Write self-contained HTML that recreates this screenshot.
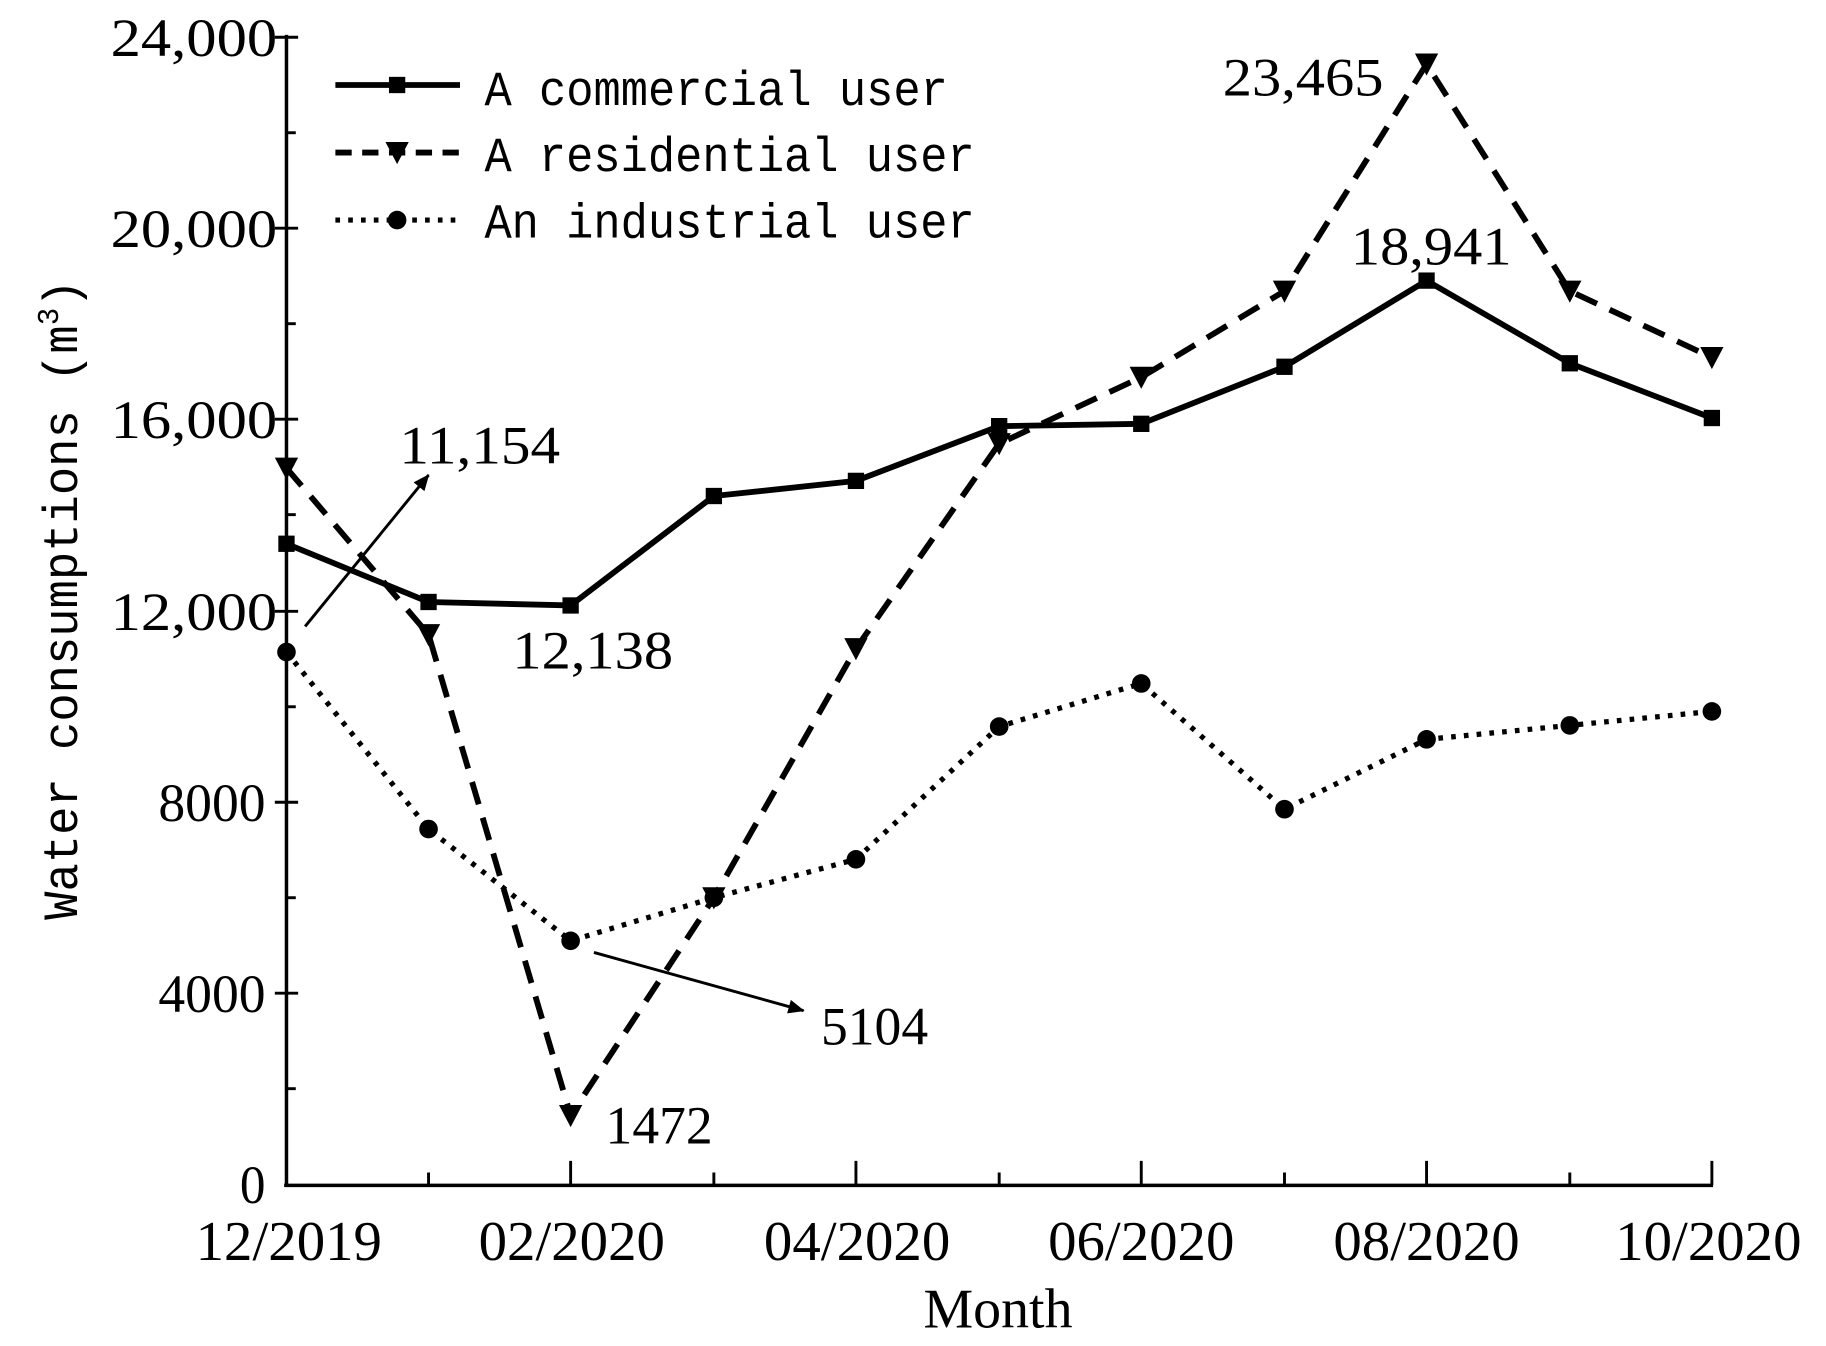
<!DOCTYPE html>
<html><head><style>html,body{margin:0;padding:0;background:#fff}svg{display:block}</style></head>
<body>
<svg width="1826" height="1346" viewBox="0 0 1568 1156" preserveAspectRatio="none" xmlns="http://www.w3.org/2000/svg" font-family="Liberation Serif, serif" fill="#000">
<defs>
<marker id="ar" markerWidth="14" markerHeight="12" refX="13" refY="6" orient="auto" markerUnits="userSpaceOnUse" viewBox="0 0 14 12"><path d="M0,0 L14,6 L0,12z"/></marker>
</defs>
<g stroke="#000" stroke-width="3" fill="none">
<line x1="246" y1="30" x2="246" y2="1019"/>
<line x1="244" y1="1018" x2="1471" y2="1018"/>
</g>
<g stroke="#000" stroke-width="2.5">
<line x1="236" y1="32" x2="256" y2="32"/><line x1="246" y1="114" x2="254" y2="114"/>
<line x1="236" y1="196" x2="256" y2="196"/><line x1="246" y1="278" x2="254" y2="278"/>
<line x1="236" y1="360" x2="256" y2="360"/><line x1="246" y1="442" x2="254" y2="442"/>
<line x1="236" y1="525" x2="256" y2="525"/><line x1="246" y1="607" x2="254" y2="607"/>
<line x1="236" y1="689" x2="256" y2="689"/><line x1="246" y1="771" x2="254" y2="771"/>
<line x1="236" y1="853" x2="256" y2="853"/><line x1="246" y1="935" x2="254" y2="935"/>
<line x1="368" y1="1018" x2="368" y2="1007"/><line x1="490" y1="1018" x2="490" y2="997"/>
<line x1="613" y1="1018" x2="613" y2="1007"/><line x1="735" y1="1018" x2="735" y2="997"/>
<line x1="858" y1="1018" x2="858" y2="1007"/><line x1="980" y1="1018" x2="980" y2="997"/>
<line x1="1103" y1="1018" x2="1103" y2="1007"/><line x1="1225" y1="1018" x2="1225" y2="997"/>
<line x1="1348" y1="1018" x2="1348" y2="1007"/><line x1="1470" y1="1018" x2="1470" y2="997"/>
</g>
<g font-size="46" text-anchor="end">
<text x="238" y="48" textLength="143" lengthAdjust="spacingAndGlyphs">24,000</text>
<text x="238" y="212" textLength="143" lengthAdjust="spacingAndGlyphs">20,000</text>
<text x="238" y="376" textLength="143" lengthAdjust="spacingAndGlyphs">16,000</text>
<text x="238" y="541" textLength="143" lengthAdjust="spacingAndGlyphs">12,000</text>
<text x="228" y="705" textLength="92" lengthAdjust="spacingAndGlyphs">8000</text>
<text x="228" y="869" textLength="92" lengthAdjust="spacingAndGlyphs">4000</text>
<text x="228" y="1033" textLength="22" lengthAdjust="spacingAndGlyphs">0</text>
</g>
<g font-size="48" text-anchor="middle">
<text x="248" y="1082" textLength="160" lengthAdjust="spacingAndGlyphs">12/2019</text>
<text x="491" y="1082" textLength="160" lengthAdjust="spacingAndGlyphs">02/2020</text>
<text x="736" y="1082" textLength="160" lengthAdjust="spacingAndGlyphs">04/2020</text>
<text x="980" y="1082" textLength="160" lengthAdjust="spacingAndGlyphs">06/2020</text>
<text x="1225" y="1082" textLength="160" lengthAdjust="spacingAndGlyphs">08/2020</text>
<text x="1467" y="1082" textLength="160" lengthAdjust="spacingAndGlyphs">10/2020</text>
<text x="857" y="1140" textLength="128" lengthAdjust="spacingAndGlyphs">Month</text>
</g>
<text transform="translate(66,515) rotate(-90)" font-size="42" text-anchor="middle" font-family="Liberation Mono, monospace" textLength="550" lengthAdjust="spacingAndGlyphs">Water consumptions (m<tspan font-size="26" dy="-16">3</tspan><tspan dy="16">)</tspan></text>
<polyline fill="none" stroke="#000" stroke-width="5" points="246,467 368,517 490,520 613,426 735,413 858,366 980,364 1103,315 1225,241 1348,312 1470,359"/>
<polyline fill="none" stroke="#000" stroke-width="5" stroke-dasharray="20,12" points="246,402 368,545 490,958 613,771 735,557 858,381 980,324 1103,250 1225,55 1348,250 1470,307"/>
<polyline fill="none" stroke="#000" stroke-width="4.5" stroke-dasharray="4,7" points="246,560 368,712 490,808 613,771 735,738 858,624 980,587 1103,695 1225,635 1348,623 1470,611"/>
<g>
<rect x="239" y="460" width="14" height="14"/><rect x="361" y="510" width="14" height="14"/><rect x="483" y="513" width="14" height="14"/><rect x="606" y="419" width="14" height="14"/><rect x="728" y="406" width="14" height="14"/><rect x="851" y="359" width="14" height="14"/><rect x="973" y="357" width="14" height="14"/><rect x="1096" y="308" width="14" height="14"/><rect x="1218" y="234" width="14" height="14"/><rect x="1341" y="305" width="14" height="14"/><rect x="1463" y="352" width="14" height="14"/>
</g>
<g>
<path d="M236,393h20l-10,19z"/><path d="M358,536h20l-10,19z"/><path d="M480,949h20l-10,19z"/><path d="M603,762h20l-10,19z"/><path d="M725,548h20l-10,19z"/><path d="M848,372h20l-10,19z"/><path d="M970,315h20l-10,19z"/><path d="M1093,241h20l-10,19z"/><path d="M1215,46h20l-10,19z"/><path d="M1338,241h20l-10,19z"/><path d="M1460,298h20l-10,19z"/>
</g>
<g>
<circle cx="246" cy="560" r="8"/><circle cx="368" cy="712" r="8"/><circle cx="490" cy="808" r="8"/><circle cx="613" cy="771" r="8"/><circle cx="735" cy="738" r="8"/><circle cx="858" cy="624" r="8"/><circle cx="980" cy="587" r="8"/><circle cx="1103" cy="695" r="8"/><circle cx="1225" cy="635" r="8"/><circle cx="1348" cy="623" r="8"/><circle cx="1470" cy="611" r="8"/>
</g>
<line x1="262" y1="538" x2="368" y2="408" stroke="#000" stroke-width="2.5" marker-end="url(#ar)"/>
<line x1="510" y1="818" x2="690" y2="868" stroke="#000" stroke-width="2.5" marker-end="url(#ar)"/>
<g font-size="46">
<text x="343" y="398" textLength="138" lengthAdjust="spacingAndGlyphs">11,154</text>
<text x="440" y="574" textLength="138" lengthAdjust="spacingAndGlyphs">12,138</text>
<text x="705" y="897" textLength="92" lengthAdjust="spacingAndGlyphs">5104</text>
<text x="520" y="982" textLength="92" lengthAdjust="spacingAndGlyphs">1472</text>
<text x="1050" y="82" textLength="138" lengthAdjust="spacingAndGlyphs">23,465</text>
<text x="1160" y="227" textLength="138" lengthAdjust="spacingAndGlyphs">18,941</text>
</g>
<line x1="288" y1="73" x2="395" y2="73" stroke="#000" stroke-width="5"/><rect x="334" y="66" width="14" height="14"/>
<line x1="288" y1="131" x2="395" y2="131" stroke="#000" stroke-width="5" stroke-dasharray="14,9"/><path d="M331,122h20l-10,19z"/>
<line x1="288" y1="189" x2="395" y2="189" stroke="#000" stroke-width="4.5" stroke-dasharray="4,7"/><circle cx="341" cy="189" r="8"/>
<g font-size="42" font-family="Liberation Mono, monospace">
<text x="416" y="90" textLength="398" lengthAdjust="spacingAndGlyphs">A commercial user</text>
<text x="416" y="147" textLength="421" lengthAdjust="spacingAndGlyphs">A residential user</text>
<text x="416" y="204" textLength="421" lengthAdjust="spacingAndGlyphs">An industrial user</text>
</g>
</svg>
</body></html>
